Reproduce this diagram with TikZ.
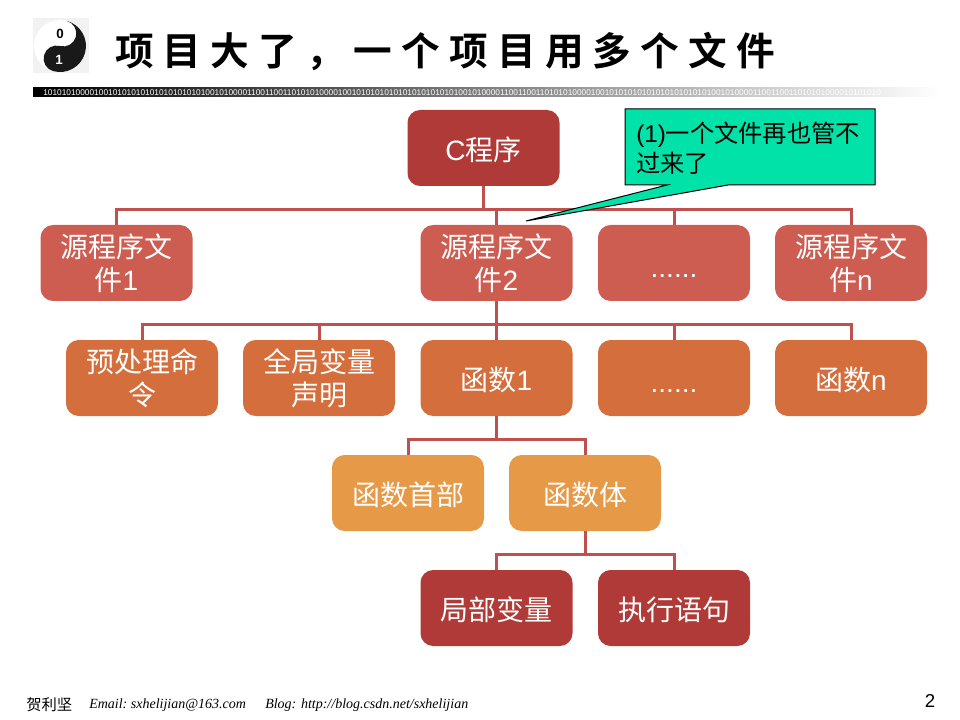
\documentclass[tikz,border=0pt]{standalone}
\usepackage{fontspec}
\usepackage{xcolor}
\setmainfont{Liberation Sans}
\newfontfamily\cjk{Noto Sans CJK SC}
\newfontfamily\titlefont[LetterSpace=23.5,BoldFont={Noto Sans CJK SC Bold}]{Noto Sans CJK SC}
\newfontfamily\footfont{Liberation Serif}
\newcommand{\zh}[1]{{\cjk #1}}
\definecolor{rootred}{HTML}{B03A37}
\definecolor{filered}{HTML}{CD5C51}
\definecolor{partorange}{HTML}{D46E3C}
\definecolor{funcorange}{HTML}{E69A48}
\definecolor{linkred}{HTML}{C0504D}
\definecolor{notegreen}{HTML}{00E2A8}
\begin{document}
\begin{tikzpicture}[-, x=0.75pt, y=-0.75pt,
box/.style={rectangle, rounded corners=9.5pt, minimum width=114pt, minimum height=57pt, inner sep=0pt, align=center, text=white, font=\fontsize{21}{24.75}\selectfont, execute at begin node={\rule{0pt}{21pt}}},
root node/.style={box, fill=rootred},
file node/.style={box, fill=filered},
part node/.style={box, fill=partorange},
func node/.style={box, fill=funcorange},
link/.style={draw=linkred, line width=2.25pt, to path={(\tikztostart.south) -- ++(0,23) -| (\tikztotarget.north)}},
foot/.style={anchor=west, inner sep=0pt, font=\fontsize{10.5}{12}\selectfont\footfont\itshape}]
\useasboundingbox (0,0) rectangle (960,720);
% logo
\fill[gray!10] (33,18) rectangle (89,73);
\fill[white] (60,46) circle[radius=19.5pt];
\fill[black!90] (66.7,20.9) arc[start angle=75, end angle=-105, radius=19.5pt] arc[start angle=255, end angle=75, radius=9.75pt] arc[start angle=-105, end angle=75, radius=9.75pt] -- cycle;
\node[inner sep=0pt, font=\fontsize{10}{11}\selectfont\bfseries] (zero) at (60,34) {0};
\node[inner sep=0pt, text=white, font=\fontsize{10}{11}\selectfont\bfseries] (one) at (59,60) {1};
\node[anchor=west, inner sep=0pt, font=\fontsize{29}{30}\selectfont\titlefont\bfseries] (title) at (115,52) {项目大了，一个项目用多个文件};
% binary strip
\shade[left color=black, right color=white] (33,88) rectangle (940,97);
\node[anchor=west, inner sep=0pt, text=white, font=\fontsize{6.25}{7}\selectfont] (bits) at (43,92.5) {10101010000100101010101010101010101001010000110011001101010100001001010101010101010101010100101000011001100110101010000100101010101010101010101010010100001100110011010101000010101010};
% tree
\node[root node] (0) at (483.5,148) {C\zh{程序}};
\node[file node] (1) at (116.5,263) {\zh{源程序文}\\\zh{件}1};
\node[file node] (2) at (496.5,263) {\zh{源程序文}\\\zh{件}2};
\node[file node] (3) at (674,263) {......};
\node[file node] (4) at (851,263) {\zh{源程序文}\\\zh{件}n};
\node[part node] (5) at (142,378) {\zh{预处理命}\\\zh{令}};
\node[part node] (6) at (319,378) {\zh{全局变量}\\\zh{声明}};
\node[part node] (7) at (496.5,378) {\zh{函数}1};
\node[part node] (8) at (674,378) {......};
\node[part node] (9) at (851,378) {\zh{函数}n};
\node[func node] (10) at (408,493) {\zh{函数首部}};
\node[func node] (11) at (585,493) {\zh{函数体}};
\node[root node] (12) at (496.5,608) {\zh{局部变量}};
\node[root node] (13) at (674,608) {\zh{执行语句}};
\path
(0) edge[link] (1)
(0) edge[link] (2)
(0) edge[link] (3)
(0) edge[link] (4)
(2) edge[link] (5)
(2) edge[link] (6)
(2) edge[link] (7)
(2) edge[link] (8)
(2) edge[link] (9)
(7) edge[link] (10)
(7) edge[link] (11)
(11) edge[link] (12)
(11) edge[link] (13);
% callout
\draw[fill=notegreen, line width=0.75pt] (625,109) -- (875,109) -- (875,185) -- (728,185) -- (526,221) -- (667,185) -- (625,185) -- cycle;
\node[anchor=north west, inner sep=0pt, align=left, font=\fontsize{18.2}{22.5}\selectfont] (note) at (636,122) {(1)\zh{一个文件再也管不}\\\zh{过来了}};
% footer
\node[foot, font=\fontsize{11.5}{13}\selectfont\cjk] (name) at (26,705) {贺利坚};
\node[foot] (mail) at (89,705) {Email:\ sxhelijian@163.com};
\node[foot] (blog) at (265,705) {Blog: http://blog.csdn.net/sxhelijian};
\node[inner sep=0pt, font=\fontsize{14}{16}\selectfont] (page) at (930,701) {2};
\end{tikzpicture}
\end{document}
